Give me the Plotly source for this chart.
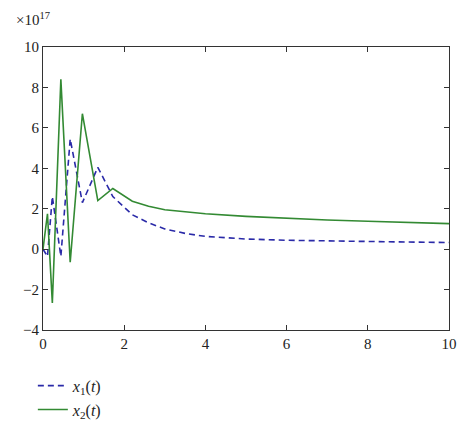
import plotly.graph_objects as go

# time grid (shared by both states) and state values in units of 1e17
t = [0, 0.11, 0.23, 0.44, 0.67, 0.97, 1.35, 1.72, 2.2, 2.6, 3.0, 3.5, 4, 5, 6, 7, 8, 9, 10]
x1 = [0, -0.36, 2.6, -0.36, 5.45, 2.3, 4.05, 2.6, 1.7, 1.3, 1.0, 0.78, 0.63, 0.5, 0.44, 0.4, 0.37, 0.35, 0.33]
x2 = [0, 1.75, -2.66, 8.4, -0.65, 6.7, 2.4, 3.0, 2.37, 2.12, 1.95, 1.84, 1.75, 1.62, 1.52, 1.44, 1.38, 1.32, 1.26]

x_ticks = [0, 2, 4, 6, 8, 10]
y_ticks = [-4, -2, 0, 2, 4, 6, 8, 10]
y_tick_text = ["\u22124", "\u22122", "0", "2", "4", "6", "8", "10"]

font = "Liberation Serif"

fig = go.Figure()
fig.add_trace(go.Scatter(x=t, y=x1, mode="lines", name="<i>x</i><sub>1</sub>(<i>t</i>)",
                         line=dict(color="#2a2aa8", width=1.6, dash="6px,4px")))
fig.add_trace(go.Scatter(x=t, y=x2, mode="lines", name="<i>x</i><sub>2</sub>(<i>t</i>)",
                         line=dict(color="#338a33", width=1.6)))

axis_style = dict(showline=True, linecolor="#333", linewidth=1, mirror="ticks",
                  ticks="inside", ticklen=5, tickcolor="#333", showgrid=False, zeroline=False,
                  tickfont=dict(size=15))

fig.update_xaxes(range=[0, 10], tickvals=x_ticks, **axis_style)
fig.update_yaxes(range=[-4, 10], tickvals=y_ticks, ticktext=y_tick_text, **axis_style)

# common exponent label, MATLAB style
fig.add_annotation(text="\u00d710<sup>17</sup>", xref="paper", yref="paper",
                   x=-0.072, y=1.1, xanchor="left", yanchor="middle", showarrow=False,
                   font=dict(family=font, size=15, color="#222"))

# page body adds an 8px margin, so the figure is made 8px smaller on each side
fig.update_layout(
    width=466, height=431,
    margin=dict(l=35, r=25, t=39, b=92),
    plot_bgcolor="white", paper_bgcolor="white",
    font=dict(family=font, size=15, color="#222"),
    showlegend=True,
    legend=dict(x=-0.025, y=-0.137, xanchor="left", yanchor="top",
                bgcolor="rgba(0,0,0,0)", tracegroupgap=0, font=dict(size=16)),
)

fig.write_html("out.html")
